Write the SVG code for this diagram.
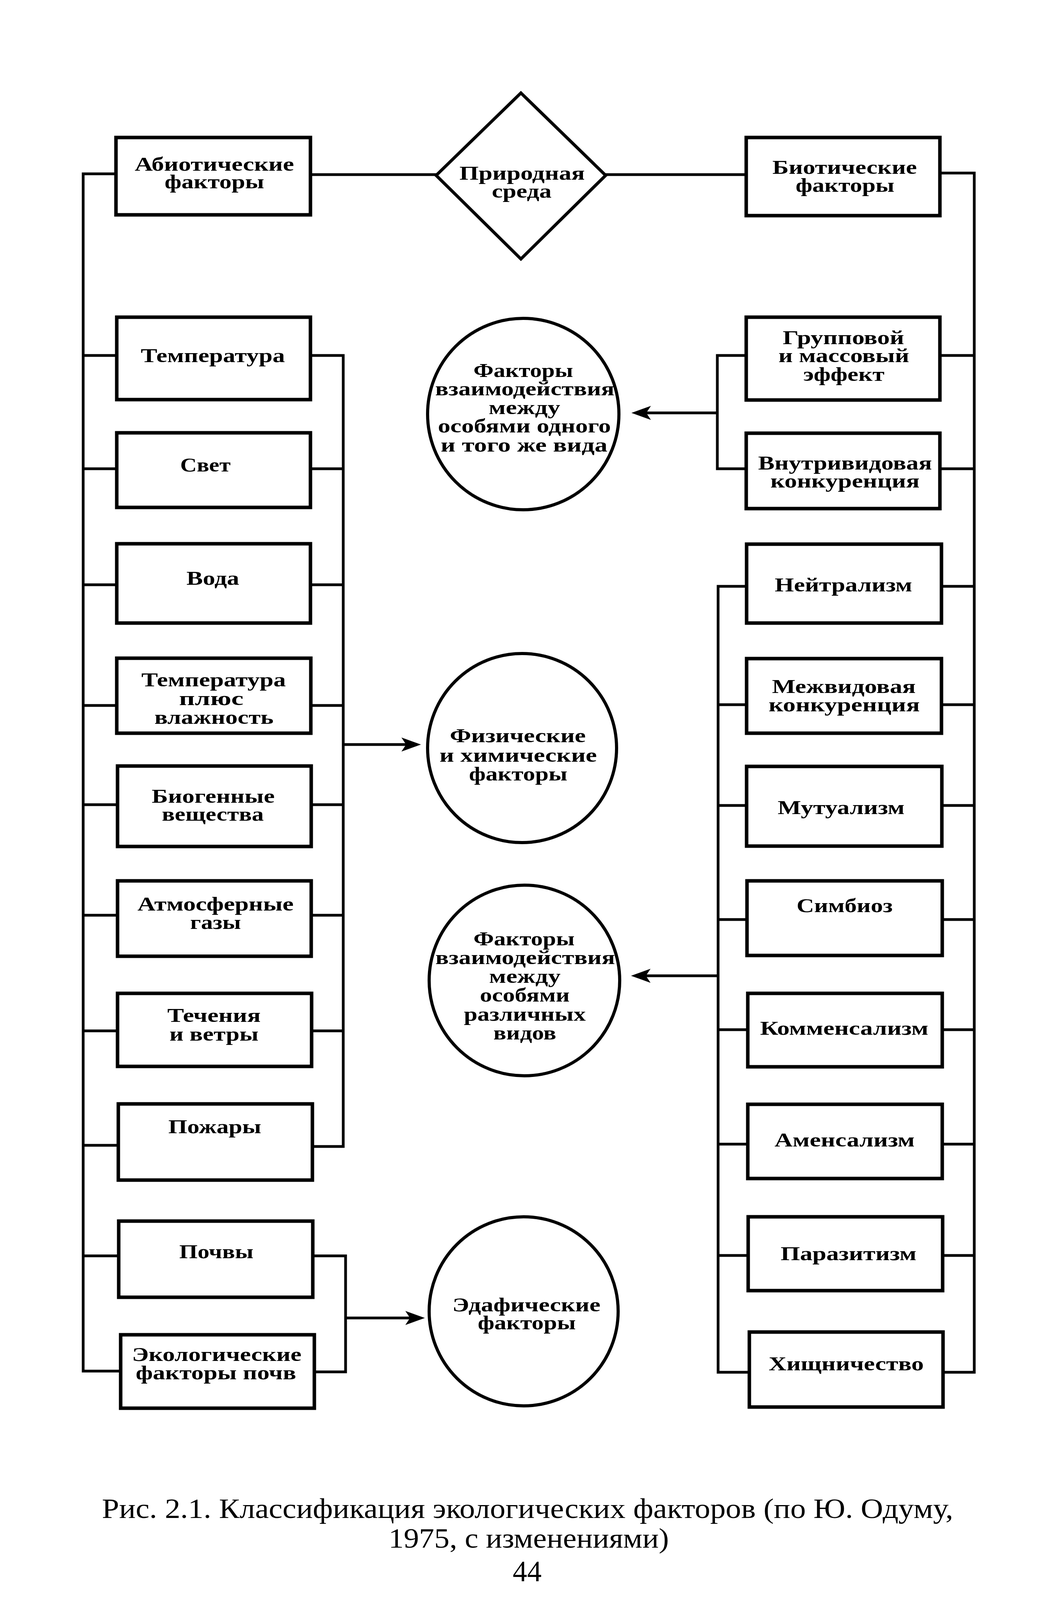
<svg xmlns="http://www.w3.org/2000/svg" width="2712" height="4435" viewBox="0 0 2712 4435">
<style>
.box{fill:#fff;stroke:#000;stroke-width:9}
.circ{fill:#fff;stroke:#000;stroke-width:8}
.conn{fill:none;stroke:#000;stroke-width:7}
.lbl{font-family:"Liberation Serif","Times New Roman",serif;font-weight:bold;font-size:50px;text-anchor:middle;fill:#000}
.cap{font-family:"Liberation Serif","Times New Roman",serif;font-size:72px;fill:#000}
</style>
<defs>
<marker id="arr" markerUnits="userSpaceOnUse" markerWidth="56" markerHeight="44" viewBox="-24 -22 56 44" refX="0" refY="0" orient="auto" overflow="visible">
<path d="M30,0 L-20,-18 L-8,0 L-20,18 Z" fill="#000"/>
</marker>
</defs>
<rect x="0" y="0" width="2712" height="4435" fill="#fff"/>

<g id="connectors">
<path class="conn" d="M795,447 H1117"/>
<path class="conn" d="M1551,447 H1911"/>
<path class="conn" d="M297,445 H213 V3510 H309"/>
<path class="conn" d="M213,910 H299 M213,1200 H299 M213,1497 H299 M213,1806 H299 M213,2060 H301 M213,2343 H301 M213,2639 H301 M213,2932 H303 M213,3215 H304"/>
<path class="conn" d="M795,910 H879 V2935 H800"/>
<path class="conn" d="M795,1200 H879 M795,1497 H879 M796,1806 H879 M797,2060 H879 M797,2343 H879 M798,2639 H879"/>
<path class="conn" d="M879,1906 H1048" marker-end="url(#arr)"/>
<path class="conn" d="M801,3215 H885 V3512 H805"/>
<path class="conn" d="M885,3374 H1058" marker-end="url(#arr)"/>
<path class="conn" d="M2407,443 H2495 V3513 H2415"/>
<path class="conn" d="M2407,910 H2495 M2407,1200 H2495 M2411,1501 H2495 M2411,1804 H2495 M2412,2062 H2495 M2413,2354 H2495 M2413,2636 H2495 M2413,2929 H2495 M2414,3214 H2495"/>
<path class="conn" d="M1911,910 H1837 V1200 H1911"/>
<path class="conn" d="M1837,1057 H1647" marker-end="url(#arr)"/>
<path class="conn" d="M1912,1501 H1839 V3513 H1919"/>
<path class="conn" d="M1839,1804 H1912 M1839,2062 H1912 M1839,2354 H1913 M1839,2636 H1915 M1839,2929 H1915 M1839,3214 H1916"/>
<path class="conn" d="M1839,2498 H1646" marker-end="url(#arr)"/>
</g>

<g id="n-priroda">
<polygon points="1334,238 1551,449 1334,663 1117,449" fill="#fff" stroke="#000" stroke-width="8"/>
<text class="lbl"><tspan x="1337" y="460" textLength="321" lengthAdjust="spacingAndGlyphs">Природная</tspan><tspan x="1336" y="506" textLength="153" lengthAdjust="spacingAndGlyphs">среда</tspan></text>
</g>

<g id="n-abiotic">
<rect class="box" x="297" y="352" width="498" height="198"/>
<text class="lbl"><tspan x="549" y="437" textLength="408" lengthAdjust="spacingAndGlyphs">Абиотические</tspan><tspan x="549" y="482" textLength="255" lengthAdjust="spacingAndGlyphs">факторы</tspan></text>
</g>
<g id="n-biotic">
<rect class="box" x="1911" y="352" width="496" height="200"/>
<text class="lbl"><tspan x="2163" y="445" textLength="370" lengthAdjust="spacingAndGlyphs">Биотические</tspan><tspan x="2164" y="491" textLength="253" lengthAdjust="spacingAndGlyphs">факторы</tspan></text>
</g>

<g id="n-temp">
<rect class="box" x="299" y="812" width="496" height="211"/>
<text class="lbl" x="545" y="927" textLength="369" lengthAdjust="spacingAndGlyphs">Температура</text>
</g>
<g id="n-svet">
<rect class="box" x="299" y="1108" width="496" height="191"/>
<text class="lbl" x="526" y="1207" textLength="129" lengthAdjust="spacingAndGlyphs">Свет</text>
</g>
<g id="n-voda">
<rect class="box" x="299" y="1392" width="496" height="203"/>
<text class="lbl" x="545" y="1497" textLength="135" lengthAdjust="spacingAndGlyphs">Вода</text>
</g>
<g id="n-temp-vlazh">
<rect class="box" x="299" y="1685" width="497" height="192"/>
<text class="lbl"><tspan x="547" y="1757" textLength="370" lengthAdjust="spacingAndGlyphs">Температура</tspan><tspan x="541" y="1805" textLength="165" lengthAdjust="spacingAndGlyphs">плюс</tspan><tspan x="548" y="1853" textLength="305" lengthAdjust="spacingAndGlyphs">влажность</tspan></text>
</g>
<g id="n-biogen">
<rect class="box" x="301" y="1961" width="496" height="206"/>
<text class="lbl"><tspan x="546" y="2055" textLength="315" lengthAdjust="spacingAndGlyphs">Биогенные</tspan><tspan x="545" y="2101" textLength="261" lengthAdjust="spacingAndGlyphs">вещества</tspan></text>
</g>
<g id="n-atmo">
<rect class="box" x="301" y="2255" width="496" height="193"/>
<text class="lbl"><tspan x="552" y="2331" textLength="400" lengthAdjust="spacingAndGlyphs">Атмосферные</tspan><tspan x="552" y="2378" textLength="130" lengthAdjust="spacingAndGlyphs">газы</tspan></text>
</g>
<g id="n-techenia">
<rect class="box" x="301" y="2543" width="497" height="187"/>
<text class="lbl"><tspan x="548" y="2616" textLength="239" lengthAdjust="spacingAndGlyphs">Течения</tspan><tspan x="548" y="2664" textLength="228" lengthAdjust="spacingAndGlyphs">и ветры</tspan></text>
</g>
<g id="n-pozhary">
<rect class="box" x="303" y="2826" width="497" height="195"/>
<text class="lbl" x="550" y="2901" textLength="238" lengthAdjust="spacingAndGlyphs">Пожары</text>
</g>
<g id="n-pochvy">
<rect class="box" x="304" y="3126" width="497" height="195"/>
<text class="lbl" x="554" y="3221" textLength="190" lengthAdjust="spacingAndGlyphs">Почвы</text>
</g>
<g id="n-ekol-pochv">
<rect class="box" x="309" y="3417" width="496" height="188"/>
<text class="lbl"><tspan x="555" y="3484" textLength="434" lengthAdjust="spacingAndGlyphs">Экологические</tspan><tspan x="553" y="3531" textLength="411" lengthAdjust="spacingAndGlyphs">факторы почв</tspan></text>
</g>

<g id="n-gruppovoi">
<rect class="box" x="1911" y="812" width="496" height="212"/>
<text class="lbl"><tspan x="2160" y="881" textLength="311" lengthAdjust="spacingAndGlyphs">Групповой</tspan><tspan x="2161" y="927" textLength="335" lengthAdjust="spacingAndGlyphs">и массовый</tspan><tspan x="2161" y="975" textLength="208" lengthAdjust="spacingAndGlyphs">эффект</tspan></text>
</g>
<g id="n-vnutrivid">
<rect class="box" x="1911" y="1109" width="496" height="193"/>
<text class="lbl"><tspan x="2164" y="1202" textLength="445" lengthAdjust="spacingAndGlyphs">Внутривидовая</tspan><tspan x="2164" y="1248" textLength="382" lengthAdjust="spacingAndGlyphs">конкуренция</tspan></text>
</g>
<g id="n-neitral">
<rect class="box" x="1912" y="1393" width="499" height="202"/>
<text class="lbl" x="2160" y="1514" textLength="352" lengthAdjust="spacingAndGlyphs">Нейтрализм</text>
</g>
<g id="n-mezhvid">
<rect class="box" x="1912" y="1686" width="499" height="191"/>
<text class="lbl"><tspan x="2161" y="1774" textLength="368" lengthAdjust="spacingAndGlyphs">Межвидовая</tspan><tspan x="2162" y="1821" textLength="387" lengthAdjust="spacingAndGlyphs">конкуренция</tspan></text>
</g>
<g id="n-mutual">
<rect class="box" x="1912" y="1962" width="500" height="204"/>
<text class="lbl" x="2154" y="2084" textLength="325" lengthAdjust="spacingAndGlyphs">Мутуализм</text>
</g>
<g id="n-simbioz">
<rect class="box" x="1913" y="2255" width="500" height="191"/>
<text class="lbl" x="2163" y="2335" textLength="246" lengthAdjust="spacingAndGlyphs">Симбиоз</text>
</g>
<g id="n-kommens">
<rect class="box" x="1915" y="2543" width="498" height="188"/>
<text class="lbl" x="2162" y="2649" textLength="431" lengthAdjust="spacingAndGlyphs">Комменсализм</text>
</g>
<g id="n-amens">
<rect class="box" x="1915" y="2827" width="498" height="190"/>
<text class="lbl" x="2163" y="2935" textLength="359" lengthAdjust="spacingAndGlyphs">Аменсализм</text>
</g>
<g id="n-parazit">
<rect class="box" x="1916" y="3115" width="498" height="189"/>
<text class="lbl" x="2173" y="3226" textLength="348" lengthAdjust="spacingAndGlyphs">Паразитизм</text>
</g>
<g id="n-hishch">
<rect class="box" x="1919" y="3410" width="496" height="192"/>
<text class="lbl" x="2167" y="3508" textLength="397" lengthAdjust="spacingAndGlyphs">Хищничество</text>
</g>

<g id="c-intra">
<circle class="circ" cx="1340" cy="1060" r="245"/>
<text class="lbl"><tspan x="1340" y="965" textLength="255" lengthAdjust="spacingAndGlyphs">Факторы</tspan><tspan x="1344" y="1012" textLength="459" lengthAdjust="spacingAndGlyphs">взаимодействия</tspan><tspan x="1343" y="1060" textLength="183" lengthAdjust="spacingAndGlyphs">между</tspan><tspan x="1343" y="1107" textLength="443" lengthAdjust="spacingAndGlyphs">особями одного</tspan><tspan x="1342" y="1156" textLength="427" lengthAdjust="spacingAndGlyphs">и того же вида</tspan></text>
</g>
<g id="c-phys">
<circle class="circ" cx="1337" cy="1915" r="242"/>
<text class="lbl"><tspan x="1326" y="1900" textLength="348" lengthAdjust="spacingAndGlyphs">Физические</tspan><tspan x="1327" y="1950" textLength="403" lengthAdjust="spacingAndGlyphs">и химические</tspan><tspan x="1327" y="1998" textLength="252" lengthAdjust="spacingAndGlyphs">факторы</tspan></text>
</g>
<g id="c-inter">
<circle class="circ" cx="1343" cy="2510" r="244"/>
<text class="lbl"><tspan x="1342" y="2420" textLength="259" lengthAdjust="spacingAndGlyphs">Факторы</tspan><tspan x="1345" y="2468" textLength="460" lengthAdjust="spacingAndGlyphs">взаимодействия</tspan><tspan x="1344" y="2516" textLength="183" lengthAdjust="spacingAndGlyphs">между</tspan><tspan x="1344" y="2564" textLength="230" lengthAdjust="spacingAndGlyphs">особями</tspan><tspan x="1344" y="2613" textLength="312" lengthAdjust="spacingAndGlyphs">различных</tspan><tspan x="1344" y="2661" textLength="161" lengthAdjust="spacingAndGlyphs">видов</tspan></text>
</g>
<g id="c-edaf">
<circle class="circ" cx="1341" cy="3357" r="242"/>
<text class="lbl"><tspan x="1348" y="3357" textLength="379" lengthAdjust="spacingAndGlyphs">Эдафические</tspan><tspan x="1349" y="3403" textLength="251" lengthAdjust="spacingAndGlyphs">факторы</tspan></text>
</g>

<g id="caption">
<text class="cap"><tspan x="261" y="3886" textLength="2180" lengthAdjust="spacingAndGlyphs">Рис. 2.1. Классификация экологических факторов (по Ю. Одуму,</tspan><tspan x="995" y="3962" textLength="718" lengthAdjust="spacingAndGlyphs">1975, с изменениями)</tspan></text>
<text class="cap" x="1313" y="4048" textLength="74" lengthAdjust="spacingAndGlyphs" style="font-size:76px">44</text>
</g>
</svg>
